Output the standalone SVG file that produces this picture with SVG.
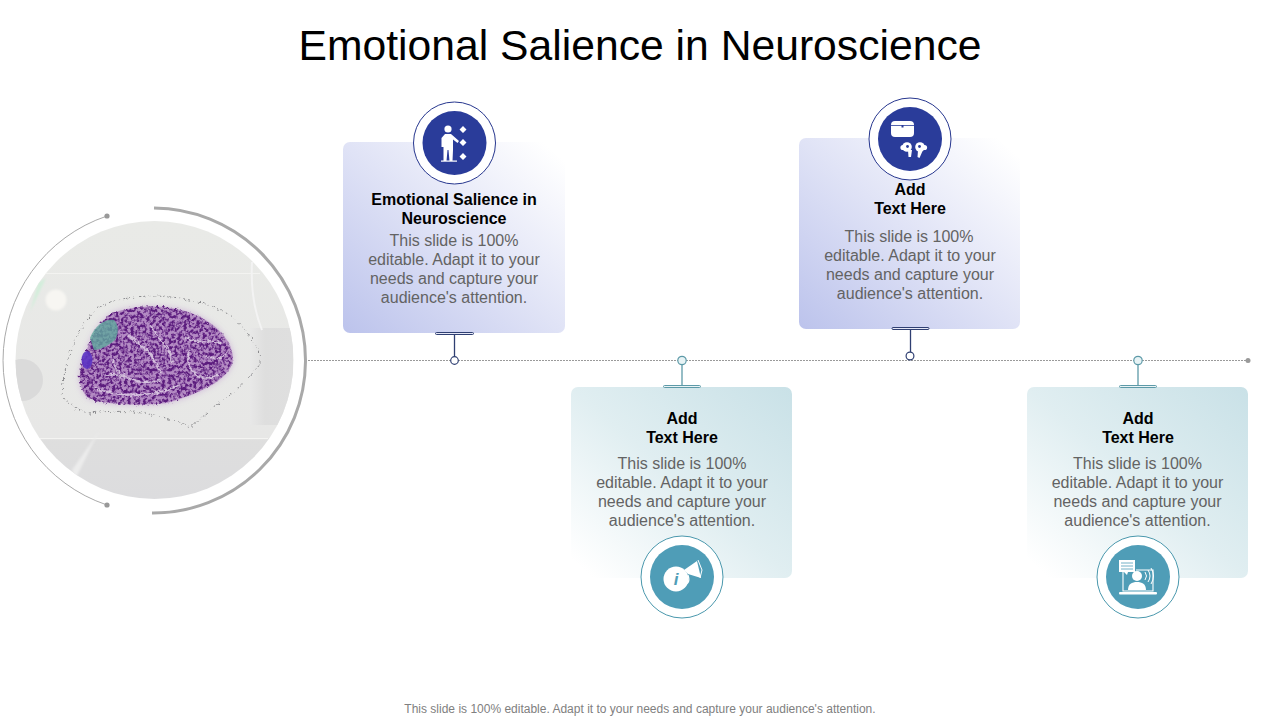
<svg xmlns="http://www.w3.org/2000/svg" width="1280" height="720" viewBox="0 0 1280 720">
<style>
text{font-family:"Liberation Sans",Arial,sans-serif;text-anchor:middle}
.title{font-size:42.67px;fill:#000}
.h{font-size:16px;font-weight:bold;fill:#000}
.b{font-size:16px;fill:#636363}
.foot{font-size:12px;fill:#808080}
.ring1{fill:#fff;stroke:#27378f;stroke-width:1}
.ring2{fill:#fff;stroke:#4a98ad;stroke-width:1}
.ic{fill:#fff}
.blue{stroke:#2f3f72;fill:none;stroke-width:1.300}
.teal{stroke:#5d9aa8;fill:none;stroke-width:1.300}
</style>
<defs>
<linearGradient id="gb" x1="0" y1="1" x2="1" y2="0"><stop offset="0" stop-color="#bcc3ec"/><stop offset=".5" stop-color="#e0e3f6"/><stop offset=".95" stop-color="#fff"/></linearGradient>
<linearGradient id="gt" x1="1" y1="0" x2="0" y2="1"><stop offset="0" stop-color="#c9e1e7"/><stop offset=".5" stop-color="#e0eef1"/><stop offset=".95" stop-color="#fff"/></linearGradient>
<linearGradient id="disc" x1="0" y1="0" x2="0" y2="1"><stop offset="0" stop-color="#e9eae7"/><stop offset=".78" stop-color="#e7e7e6"/><stop offset=".79" stop-color="#dedede"/><stop offset="1" stop-color="#dcdcde"/></linearGradient>
<linearGradient id="shade" x1="0" y1="0" x2="1" y2="0"><stop offset="0" stop-color="#e8e8e8"/><stop offset=".35" stop-color="#dddddd"/><stop offset="1" stop-color="#dedede"/></linearGradient>
<clipPath id="cdisc"><circle cx="154.500" cy="360" r="139"/></clipPath>
<filter id="speck" x="-10%" y="-10%" width="120%" height="120%">
<feTurbulence type="fractalNoise" baseFrequency=".32" numOctaves="3" seed="4" result="n"/>
<feColorMatrix in="n" type="matrix" values="0 0 0 0 0 0 0 0 0 0 0 0 0 0 0 4 0 0 0 -1.600" result="m"/>
<feDisplacementMap in="SourceGraphic" in2="n" xChannelSelector="R" yChannelSelector="G" scale="8" result="d"/>
<feComposite in="d" in2="m" operator="in" result="c"/>
<feGaussianBlur in="c" stdDeviation=".45"/>
</filter>
<filter id="wig" x="-10%" y="-10%" width="120%" height="120%">
<feTurbulence type="fractalNoise" baseFrequency=".3" numOctaves="2" seed="9" result="n"/>
<feDisplacementMap in="SourceGraphic" in2="n" xChannelSelector="R" yChannelSelector="G" scale="5"/>
</filter>
<filter id="soft" x="-20%" y="-20%" width="140%" height="140%"><feGaussianBlur stdDeviation="3"/></filter>
<filter id="soft2" x="-50%" y="-50%" width="200%" height="200%"><feGaussianBlur stdDeviation="1"/></filter>
<path id="bshape" d="M113 313C135 305 170 303 198 316C220 326 234 345 233 360C230 378 205 392 167 403C140 406 100 405 87 397C77 385 78 370 86 352C92 335 100 320 113 313Z"/>
</defs>

<text class="title" x="640" y="60">Emotional Salience in Neuroscience</text>

<g id="connectors">
<line x1="308" y1="360.500" x2="1248" y2="360.500" stroke="#9a9a9a" stroke-width="1" stroke-dasharray="2 1"/>
<circle cx="1248" cy="360.500" r="2.500" fill="#999"/>
</g>

<g id="brain-image">
<path d="M154 208A152.500 152.500 0 0 1 152 513" fill="none" stroke="#a9a9a9" stroke-width="3"/>
<path d="M107 216A152.400 152.400 0 0 0 107 505" fill="none" stroke="#aaa" stroke-width="1"/>
<circle cx="107" cy="216" r="2.600" fill="#999"/>
<circle cx="107" cy="505" r="2.600" fill="#999"/>
<g clip-path="url(#cdisc)">
<rect x="15" y="221" width="280" height="278" fill="url(#disc)"/>
<rect x="45" y="273" width="215" height="1" fill="#f3f3f1"/>
<rect x="40" y="438" width="228" height="1" fill="#f4f4f2"/>
<path d="M250 328H293V425H250Z" fill="url(#shade)" opacity=".9"/>
<circle cx="22" cy="380" r="21" fill="#dadada"/>
<path d="M100 430L72 470L75 480L92 445Z" fill="#ececec" filter="url(#soft2)"/>
<path d="M38 283L46 278L30 312Z" fill="#d3eedb" filter="url(#soft2)"/>
<path d="M252 262Q250 300 262 330" fill="none" stroke="#f3f3f3" stroke-width="2"/>
</g>
<circle cx="56" cy="300" r="10.500" fill="#f7f6f2" filter="url(#soft2)"/>
<path d="M100 307C125 292 190 290 233 317C250 335 262 350 260 363C245 385 225 400 213 407C205 415 195 424 190 427C165 415 130 408 90 413C75 410 62 400 62 393C65 355 78 325 100 307Z" fill="none" stroke="#707074" stroke-width="1" stroke-dasharray="2 3 1 4 3 2" filter="url(#wig)" opacity=".8"/>
<use href="#bshape" fill="#c6a8d2" opacity=".8" filter="url(#soft)"/>
<use href="#bshape" fill="#a877ba" opacity=".7"/>
<use href="#bshape" fill="#5c1d7e" filter="url(#speck)"/>
<g fill="none" stroke="#e0d2e6" stroke-width="1.700" opacity=".8" filter="url(#wig)">
<path d="M105 375C125 372 140 388 160 380"/>
<path d="M128 335C140 345 152 350 160 372"/>
<path d="M185 337C200 347 210 335 222 345"/>
<path d="M190 350C182 368 200 385 218 375"/>
<path d="M95 388C120 398 150 398 180 385"/>
<path d="M150 325C162 345 170 345 172 362"/>
<path d="M112 360C116 372 128 382 145 382"/>
<path d="M205 355C212 362 222 358 228 352"/>
</g>
<path d="M90 338C95 325 106 318 114 320C119 325 119 333 115 340C108 346 100 350 94 350Z" fill="#5fa89c" opacity=".8"/>
<ellipse cx="87" cy="360" rx="5.500" ry="9" fill="#5c34c4" opacity=".9"/>
</g>

<g id="node-1">
<rect x="343" y="142" width="222" height="191" rx="7" fill="url(#gb)"/>
<circle cx="454.500" cy="143" r="41" class="ring1"/>
<circle cx="454.500" cy="143" r="32" fill="#2a3c9a"/>
<g class="ic">
<circle cx="448" cy="129" r="3.600"/>
<path d="M445 134H451L459 141L457.500 143L453 139.500V150L452.500 161H449.500L448.500 150H447.500L446.500 161H443.500L443.500 150V147H441.500V138Z"/>
<rect x="441" y="160.500" width="16" height="1.200"/>
<path d="M463 126l3.500 3.500-3.500 3.500-3.500-3.500zM463 139l3.500 3.500-3.500 3.500-3.500-3.500zM463 153l3.500 3.500-3.500 3.500-3.500-3.500z"/>
</g>
<text class="h" x="454" y="205">Emotional Salience in</text>
<text class="h" x="454" y="224">Neuroscience</text>
<text class="b" x="454" y="246">This slide is 100%</text>
<text class="b" x="454" y="265">editable. Adapt it to your</text>
<text class="b" x="454" y="284">needs and capture your</text>
<text class="b" x="454" y="303">audience's attention.</text>
<rect x="435.500" y="332.500" width="38" height="2" rx="1" fill="#e6e8f6" stroke="#2f3f72"/>
<line x1="454.500" y1="334" x2="454.500" y2="357" class="blue"/>
<circle cx="454.500" cy="360.500" r="3.800" fill="#fff" stroke="#2f3f72" stroke-width="1.200"/>
</g>

<g id="node-2">
<rect x="571" y="387" width="221" height="191" rx="7" fill="url(#gt)"/>
<circle cx="682" cy="577" r="41" class="ring2"/>
<circle cx="682" cy="577" r="32" fill="#4f9db7"/>
<g class="ic">
<circle cx="676" cy="579" r="12.500"/>
<path d="M684 570L697 561L701 578L688 574Z"/>
<path d="M698 560L702 570L700 578" fill="none" stroke="#fff"/>
<path d="M688 575Q691 584 684 584" fill="none" stroke="#fff" stroke-width="1.200"/>
</g>
<text x="676" y="585" font-family="Liberation Serif,serif" font-size="17" font-weight="bold" font-style="italic" fill="#4f9db7">i</text>
<text class="h" x="682" y="424">Add</text>
<text class="h" x="682" y="443">Text Here</text>
<text class="b" x="682" y="469">This slide is 100%</text>
<text class="b" x="682" y="488">editable. Adapt it to your</text>
<text class="b" x="682" y="507">needs and capture your</text>
<text class="b" x="682" y="526">audience's attention.</text>
<rect x="663.500" y="385.500" width="37" height="2" rx="1" fill="#eaf4f6" stroke="#5d9aa8"/>
<line x1="682" y1="365" x2="682" y2="385.500" class="teal"/>
<circle cx="682" cy="360.500" r="4.200" fill="#e7f3f5" stroke="#5d9aa8" stroke-width="1.200"/>
</g>

<g id="node-3">
<rect x="799" y="138" width="221" height="191" rx="7" fill="url(#gb)"/>
<circle cx="910" cy="139" r="41" class="ring1"/>
<circle cx="910" cy="139" r="32" fill="#2a3c9a"/>
<g class="ic">
<rect x="891" y="121" width="23" height="16" rx="4"/>
<line x1="891" y1="125.500" x2="914" y2="125.500" stroke="#2a3c9a" stroke-width=".8"/>
<rect x="901.500" y="125" width="2" height="2.500" fill="#2a3c9a"/>
<circle cx="907" cy="147" r="4.800"/>
<circle cx="920" cy="147" r="4.800"/>
<circle cx="903" cy="147.500" r="2.600"/>
<circle cx="924.500" cy="147.500" r="2.600"/>
<path d="M908 150L912 150L911 157L908.500 157ZM918 150L923 150L919.500 158L917.500 157Z"/>
<circle cx="907.500" cy="146.500" r="1.400" fill="#2a3c9a"/>
<circle cx="919.500" cy="146.500" r="1.400" fill="#2a3c9a"/>
</g>
<text class="h" x="910" y="195">Add</text>
<text class="h" x="910" y="214">Text Here</text>
<text class="b" x="909" y="242">This slide is 100%</text>
<text class="b" x="910" y="261">editable. Adapt it to your</text>
<text class="b" x="910" y="280">needs and capture your</text>
<text class="b" x="910" y="299">audience's attention.</text>
<rect x="892" y="327.500" width="37" height="2" rx="1" fill="#e6e8f6" stroke="#2f3f72"/>
<line x1="910.500" y1="329.500" x2="910.500" y2="352" class="blue"/>
<circle cx="910" cy="356" r="3.900" fill="#fff" stroke="#2f3f72" stroke-width="1.200"/>
</g>

<g id="node-4">
<rect x="1027" y="387" width="221" height="191" rx="7" fill="url(#gt)"/>
<circle cx="1138" cy="577" r="41" class="ring2"/>
<circle cx="1138" cy="577" r="32" fill="#4f9db7"/>
<g class="ic">
<path d="M1119 560H1135V572H1128L1127 575L1124 572H1119Z"/>
<path d="M1123 572V591H1153V570H1136" fill="none" stroke="#fff" stroke-width="1.100"/>
<rect x="1119" y="592" width="38" height="2.500" rx="1"/>
<circle cx="1137" cy="576" r="5"/>
<path d="M1128 590C1128 584 1132 582 1137 582C1142 582 1146 584 1146 590Z"/>
<path d="M1145 572Q1148 576 1145 580M1148 570Q1152 576 1148 582M1151 568Q1156 576 1151 584" fill="none" stroke="#fff" stroke-width="1"/>
</g>
<g stroke="#4f9db7" stroke-width=".8"><line x1="1121" y1="563" x2="1133" y2="563"/><line x1="1121" y1="566" x2="1133" y2="566"/><line x1="1121" y1="569" x2="1133" y2="569"/></g>
<text class="h" x="1138" y="424">Add</text>
<text class="h" x="1138" y="443">Text Here</text>
<text class="b" x="1137.500" y="469">This slide is 100%</text>
<text class="b" x="1137.500" y="488">editable. Adapt it to your</text>
<text class="b" x="1137.500" y="507">needs and capture your</text>
<text class="b" x="1137.500" y="526">audience's attention.</text>
<rect x="1119.500" y="385.500" width="37" height="2" rx="1" fill="#eaf4f6" stroke="#5d9aa8"/>
<line x1="1138" y1="365" x2="1138" y2="385.500" class="teal"/>
<circle cx="1138" cy="360.500" r="4.200" fill="#e7f3f5" stroke="#5d9aa8" stroke-width="1.200"/>
</g>

<text class="foot" x="640" y="713">This slide is 100% editable. Adapt it to your needs and capture your audience's attention.</text>
</svg>
